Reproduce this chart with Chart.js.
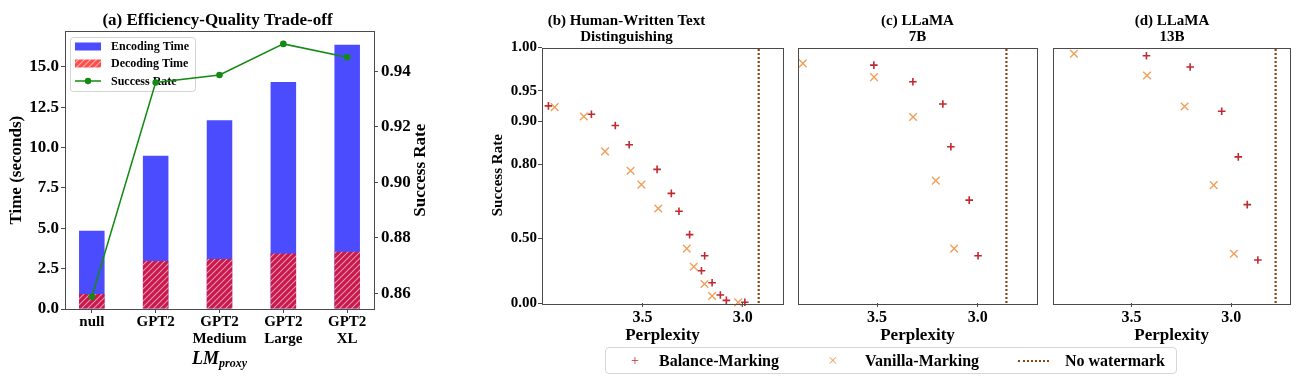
<!DOCTYPE html>
<html>
<head>
<meta charset="utf-8">
<script src="https://cdn.jsdelivr.net/npm/chart.js@4.4.1/dist/chart.umd.min.js"></script>
<style>
  body { margin: 0; background: #fff; width: 1297px; height: 384px; position: relative; overflow: hidden; font-family: 'Liberation Serif', 'Times New Roman', serif; font-weight: bold; }
  canvas { position: absolute; top: 0; }
  #legend { position: absolute; left: 605px; top: 347px; width: 572px; height: 27px; box-sizing: border-box; border: 1px solid #d6d6d6; border-radius: 4px; background: #fff; }
  #legend span { position: absolute; top: 0; line-height: 25px; font-size: 16px; color: #000; white-space: nowrap; }
  #legend .mk { font-weight: normal; font-size: 14px; }
  #legend .dots { top: 12px; height: 0; width: 31px; border-top: 2px dotted #8b4513; }
</style>
</head>
<body>
<canvas id="tradeoff" width="450" height="384" style="left:0px"></canvas>
<canvas id="human" width="321" height="384" style="left:470px"></canvas>
<canvas id="llama7" width="254" height="384" style="left:791px"></canvas>
<canvas id="llama13" width="252" height="384" style="left:1045px"></canvas>
<div id="legend">
  <span class="mk" style="left:25px;color:#c0292f">+</span>
  <span style="left:53px">Balance-Marking</span>
  <span class="mk" style="left:222px;color:#f0a05a;font-size:17px">&times;</span>
  <span style="left:259px">Vanilla-Marking</span>
  <span class="dots" style="left:412px"></span>
  <span style="left:459px">No watermark</span>
</div>
<script>
// ---- (a) efficiency / quality trade-off ----
const models = [['null'], ['GPT2'], ['GPT2', 'Medium'], ['GPT2', 'Large'], ['GPT2', 'XL']];
const encodingTime = [4.85, 9.5, 11.7, 14.07, 16.38];
const decodingTime = [0.93, 2.97, 3.1, 3.44, 3.54];
const successRate = [0.8588, 0.9359, 0.9386, 0.9498, 0.945];
const timeTicks = [0, 2.5, 5, 7.5, 10, 12.5, 15];
const rateTicksRight = [0.86, 0.88, 0.90, 0.92, 0.94];

// ---- (b) human-written text distinguishing ----
const humanBalancePpl = [3.968, 3.754, 3.635, 3.566, 3.427, 3.356, 3.318, 3.265, 3.190, 3.206, 3.153, 3.112, 3.082, 2.99];
const humanBalanceRate = [0.927, 0.913, 0.892, 0.851, 0.786, 0.707, 0.635, 0.521, 0.394, 0.287, 0.191, 0.079, 0.027, 0.007];
const humanVanillaPpl = [3.937, 3.792, 3.686, 3.559, 3.505, 3.421, 3.279, 3.244, 3.191, 3.153, 3.023];
const humanVanillaRate = [0.925, 0.909, 0.835, 0.782, 0.738, 0.647, 0.44, 0.317, 0.18, 0.07, 0.007];
const humanNoWatermark = 2.921;

// ---- (c) LLaMA 7B ----
const llama7BalancePpl = [3.516, 3.322, 3.173, 3.133, 3.042, 2.998];
const llama7BalanceRate = [0.982, 0.962, 0.930, 0.846, 0.681, 0.394];
const llama7VanillaPpl = [3.869, 3.515, 3.321, 3.208, 3.117];
const llama7VanillaRate = [0.984, 0.968, 0.908, 0.751, 0.44];
const llama7NoWatermark = 2.857;

// ---- (d) LLaMA 13B ----
const llama13BalancePpl = [3.425, 3.206, 3.048, 2.965, 2.920, 2.867];
const llama13BalanceRate = [0.992, 0.980, 0.918, 0.821, 0.663, 0.365];
const llama13VanillaPpl = [3.788, 3.422, 3.234, 3.088, 2.987];
const llama13VanillaRate = [0.994, 0.970, 0.926, 0.736, 0.407];
const llama13NoWatermark = 2.778;

const rateTicks = [0, 0.5, 0.8, 0.9, 0.95, 1.0];
const pplTicks = [3.0, 3.5];

const FONT = "'Liberation Serif', 'Times New Roman', serif";
Chart.defaults.font.family = FONT;
Chart.defaults.font.weight = 'bold';
Chart.defaults.color = '#000';
Chart.defaults.animation = false;
Chart.defaults.plugins.legend.display = false;
Chart.defaults.plugins.tooltip.enabled = false;

const AXIS_GREY = '#4a4a4a';
const tickGrid = { display: true, offset: false, drawOnChartArea: false, drawTicks: true, tickLength: 4, color: AXIS_GREY };

// success-rate axis is stretched towards 1.0:  t = -ln(1.1 - v)
const SCALE_SHIFT = 1.1;
const warp = v => -Math.log(SCALE_SHIFT - v);

class SuccessScale extends Chart.LinearScale {
  static id = 'successrate';
  getPixelForValue(value) {
    if (value === null || isNaN(value)) return NaN;
    const a = warp(this.min), b = warp(this.max);
    return this.getPixelForDecimal((warp(value) - a) / (b - a));
  }
  getValueForPixel(pixel) {
    const a = warp(this.min), b = warp(this.max);
    const t = a + this.getDecimalForPixel(pixel) * (b - a);
    return SCALE_SHIFT - Math.exp(-t);
  }
}
Chart.register(SuccessScale);

// box round the plot like the matplotlib spines
const framePlugin = {
  id: 'frame',
  afterDraw(chart) {
    const { ctx, chartArea: a } = chart;
    ctx.save();
    ctx.strokeStyle = AXIS_GREY;
    ctx.lineWidth = 1;
    ctx.strokeRect(Math.round(a.left) + 0.5, Math.round(a.top) + 0.5, Math.round(a.right - a.left), Math.round(a.bottom - a.top));
    ctx.restore();
  }
};

// hatched red fill for the decoding bars
function hatchPattern() {
  const c = document.createElement('canvas');
  c.width = 6; c.height = 6;
  const p = c.getContext('2d');
  p.fillStyle = 'rgba(255,0,0,0.7)';
  p.fillRect(0, 0, 6, 6);
  p.strokeStyle = 'rgba(255,255,255,0.55)';
  p.lineWidth = 1.1;
  p.beginPath();
  p.moveTo(0, 6); p.lineTo(6, 0);
  p.moveTo(-1, 1); p.lineTo(1, -1);
  p.moveTo(5, 7); p.lineTo(7, 5);
  p.stroke();
  return p.createPattern(c, 'repeat');
}
const hatch = hatchPattern();

// legend of panel (a): drawn before the green line, which sits on the twin axis
const timeLegend = {
  id: 'timeLegend',
  afterDatasetDraw(chart, args) {
    if (args.index !== 1) return;
    const ctx = chart.ctx;
    const ds = chart.data.datasets;
    ctx.save();
    ctx.fillStyle = 'rgba(255,255,255,0.8)';
    ctx.strokeStyle = '#d4d4d4';
    ctx.lineWidth = 1;
    ctx.beginPath();
    ctx.roundRect(70.5, 37.5, 125, 54, 3);
    ctx.fill();
    ctx.stroke();
    const rows = [46.5, 63.5, 81];
    ctx.fillStyle = ds[0].backgroundColor;
    ctx.fillRect(75, rows[0] - 4, 26, 8);
    ctx.fillStyle = ds[1].backgroundColor;
    ctx.fillRect(75, rows[1] - 4, 26, 8);
    ctx.strokeStyle = ds[2].borderColor;
    ctx.lineWidth = 1.5;
    ctx.beginPath();
    ctx.moveTo(75, rows[2]); ctx.lineTo(101, rows[2]);
    ctx.stroke();
    ctx.fillStyle = ds[2].pointBackgroundColor;
    ctx.beginPath();
    ctx.arc(88, rows[2], 3.2, 0, Math.PI * 2);
    ctx.fill();
    ctx.fillStyle = '#000';
    ctx.font = 'bold 12px ' + FONT;
    ctx.textBaseline = 'middle';
    ds.forEach((d, i) => ctx.fillText(d.label, 111, rows[i] + 0.5));
    ctx.restore();
  }
};

// x label LM_proxy with subscript, and the right-hand axis title read bottom to top
const extraLabels = {
  id: 'extraLabels',
  afterDraw(chart) {
    const { ctx, chartArea: a } = chart;
    const cx = (a.left + a.right) / 2;
    const y = chart.scales.x.top + 55;
    ctx.save();
    ctx.fillStyle = '#000';
    ctx.textBaseline = 'alphabetic';
    ctx.font = 'italic bold 18px ' + FONT;
    const w1 = ctx.measureText('LM').width;
    ctx.font = 'italic bold 12px ' + FONT;
    const w2 = ctx.measureText('proxy').width;
    const x = cx - (w1 + w2) / 2;
    ctx.font = 'italic bold 18px ' + FONT;
    ctx.fillText('LM', x, y);
    ctx.font = 'italic bold 12px ' + FONT;
    ctx.fillText('proxy', x + w1, y + 3);

    const r = chart.scales.y1;
    ctx.translate(r.right - 14, (a.top + a.bottom) / 2);
    ctx.rotate(-Math.PI / 2);
    ctx.font = 'bold 17px ' + FONT;
    ctx.textAlign = 'center';
    ctx.textBaseline = 'middle';
    ctx.fillText('Success Rate', 0, 0);
    ctx.restore();
  }
};

new Chart(document.getElementById('tradeoff'), {
  type: 'bar',
  data: {
    datasets: [
      {
        label: 'Encoding Time',
        data: encodingTime.map((v, i) => ({ x: i, y: v })),
        backgroundColor: 'rgba(0,0,255,0.7)',
        order: 2
      },
      {
        label: 'Decoding Time',
        data: decodingTime.map((v, i) => ({ x: i, y: v })),
        backgroundColor: hatch,
        order: 1
      },
      {
        type: 'line',
        label: 'Success Rate',
        data: successRate.map((v, i) => ({ x: i, y: v })),
        yAxisID: 'y1',
        borderColor: '#138a13',
        borderWidth: 1.5,
        pointRadius: 3.3,
        pointBackgroundColor: '#138a13',
        pointBorderWidth: 0,
        order: 0
      }
    ]
  },
  options: {
    responsive: false,
    barPercentage: 0.4,
    categoryPercentage: 1.0,
    layout: { padding: { left: 0, right: 15, top: 0, bottom: 0 } },
    plugins: {
      title: {
        display: true,
        text: '(a) Efficiency-Quality Trade-off',
        font: { size: 17, weight: 'bold', lineHeight: 1.2 },
        padding: { top: 10, bottom: 1 }
      }
    },
    scales: {
      x: {
        type: 'linear',
        min: -0.42,
        max: 4.42,
        offset: false,
        stacked: true,
        afterBuildTicks: ax => { ax.ticks = models.map((m, i) => ({ value: i })); },
        afterFit: s => { s.height = 75; },
        grid: tickGrid,
        border: { display: false },
        ticks: {
          callback: v => models[v],
          font: { size: 15, lineHeight: 1.1 },
          padding: 1,
          autoSkip: false,
          maxRotation: 0
        }
      },
      y: {
        min: 0,
        max: 17.2,
        afterBuildTicks: ax => { ax.ticks = timeTicks.map(v => ({ value: v })); },
        afterFit: s => { s.width = 65; },
        grid: tickGrid,
        border: { display: false },
        ticks: { callback: v => v.toFixed(1), font: { size: 17 }, padding: 2 },
        title: { display: true, text: 'Time (seconds)', font: { size: 17 }, padding: { top: 6, bottom: 0 } }
      },
      y1: {
        position: 'right',
        min: 0.8544,
        max: 0.9543,
        afterBuildTicks: ax => { ax.ticks = rateTicksRight.map(v => ({ value: v })); },
        afterFit: s => { s.width = 61; },
        grid: tickGrid,
        border: { display: false },
        ticks: { callback: v => v.toFixed(2), font: { size: 17 }, padding: 3 }
      }
    }
  },
  plugins: [timeLegend, extraLabels, framePlugin]
});

// ---- panels (b)-(d) ----
function scatterPanel(id, title, balPpl, balRate, vanPpl, vanRate, noWm, xMin, xMax, showY, pad) {
  const pts = (xs, ys) => xs.map((x, i) => ({ x: x, y: ys[i] }));
  return new Chart(document.getElementById(id), {
    type: 'scatter',
    data: {
      datasets: [
        {
          label: 'No watermark',
          type: 'line',
          data: [{ x: noWm, y: 0 }, { x: noWm, y: 1 }],
          borderColor: '#8b4513',
          borderWidth: 2.2,
          borderDash: [2, 2],
          pointRadius: 0
        },
        {
          label: 'Vanilla-Marking',
          data: pts(vanPpl, vanRate),
          pointStyle: 'crossRot',
          pointRadius: 5.4,
          borderColor: '#f0a05a',
          borderWidth: 1.4,
          clip: 8
        },
        {
          label: 'Balance-Marking',
          data: pts(balPpl, balRate),
          pointStyle: 'cross',
          pointRadius: 3.8,
          borderColor: '#c0292f',
          borderWidth: 1.6,
          clip: 8
        }
      ]
    },
    options: {
      responsive: false,
      layout: { padding: pad },
      plugins: {
        title: {
          display: true,
          text: title,
          font: { size: 15, weight: 'bold', lineHeight: 1.1 },
          padding: { top: 12.5, bottom: 2 }
        }
      },
      scales: {
        x: {
          type: 'linear',
          reverse: true,
          min: xMin,
          max: xMax,
          afterBuildTicks: ax => { ax.ticks = pplTicks.map(v => ({ value: v })); },
          afterFit: s => { s.height = 43; },
          grid: tickGrid,
          border: { display: false },
          ticks: { callback: v => v.toFixed(1), font: { size: 16 }, padding: 1 },
          title: { display: true, text: 'Perplexity', font: { size: 17 }, padding: { top: 0, bottom: 0 } }
        },
        y: {
          type: 'successrate',
          display: showY,
          min: 0,
          max: 1,
          afterBuildTicks: ax => { ax.ticks = rateTicks.map(v => ({ value: v })); },
          afterFit: s => { if (showY) s.width = 72; },
          grid: tickGrid,
          border: { display: false },
          ticks: { callback: v => v.toFixed(2), font: { size: 15 }, padding: 1, autoSkip: false },
          title: { display: true, text: 'Success Rate', font: { size: 15 }, padding: { top: 19, bottom: 0 } }
        }
      }
    },
    plugins: [framePlugin]
  });
}

scatterPanel('human', ['(b) Human-Written Text', 'Distinguishing'],
  humanBalancePpl, humanBalanceRate, humanVanillaPpl, humanVanillaRate, humanNoWatermark,
  2.80, 4.0, true, { left: 0, right: 8, top: 0, bottom: 38 });
scatterPanel('llama7', ['(c) LLaMA', '7B'],
  llama7BalancePpl, llama7BalanceRate, llama7VanillaPpl, llama7VanillaRate, llama7NoWatermark,
  2.705, 3.893, false, { left: 7, right: 8, top: 0, bottom: 38 });
scatterPanel('llama13', ['(d) LLaMA', '13B'],
  llama13BalancePpl, llama13BalanceRate, llama13VanillaPpl, llama13VanillaRate, llama13NoWatermark,
  2.705, 3.893, false, { left: 8, right: 6, top: 0, bottom: 38 });
</script>
</body>
</html>
